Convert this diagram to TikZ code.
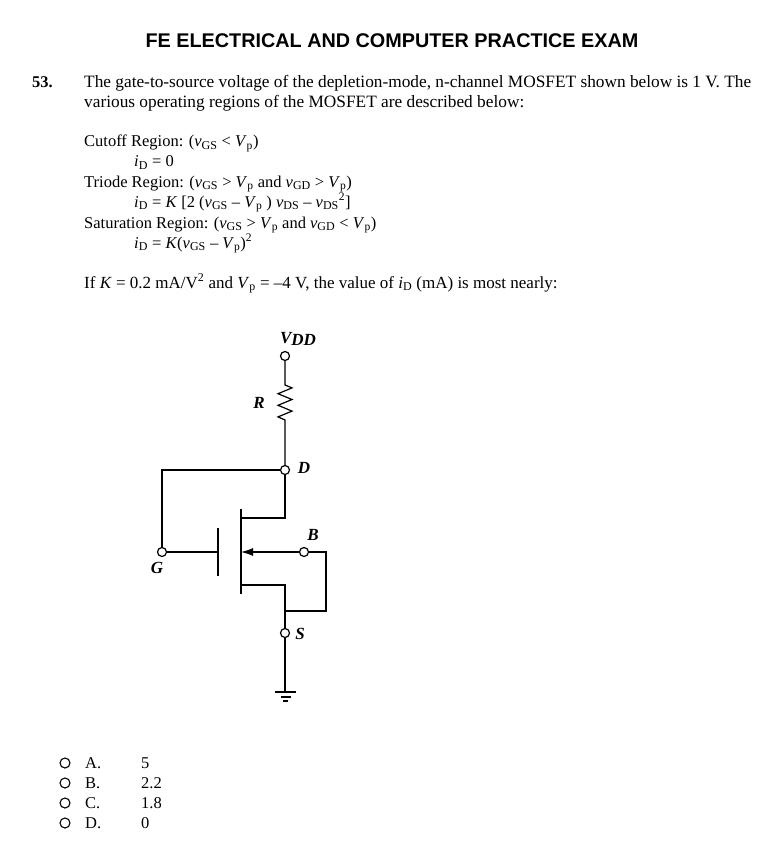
\documentclass[tikz,border=0pt]{standalone}
\usepackage{fontspec}
\setmainfont{Liberation Serif}
\newfontfamily\headfont{Liberation Sans}
\usetikzlibrary{arrows.meta}
\tikzset{
    wire/.style = {-,line width=1.2pt,black},
    term/.style = {circle,draw=black,line width=1.2pt,fill=white,minimum size=9pt,inner sep=0},
    mosbar/.style = {-,line width=1.5pt,black},
    lbl/.style = {font=\fontsize{17}{17}\selectfont\bfseries\itshape},
    txt/.style = {anchor=base west,inner sep=0,font=\fontsize{16.5}{20}\selectfont},
    para/.style = {txt,font=\fontsize{17.3}{20}\selectfont},
    ans/.style = {circle,draw=black,line width=1.1pt,minimum size=10pt,inner sep=0}
}
\newcommand{\ssub}[2]{\textit{#1}\textsubscript{\fontsize{12}{12}\selectfont #2}}
\begin{document}
\begin{tikzpicture}[x=1pt,y=-1pt]
\useasboundingbox (0,0) rectangle (778,853);

\node[anchor=base,inner sep=0,font=\fontsize{19.8}{20}\headfont\bfseries] at (392,48) (title) {FE ELECTRICAL AND COMPUTER PRACTICE EXAM};
\node[txt,font=\fontsize{16.4}{20}\selectfont\bfseries] at (32,88) (num) {53.};
\node[para] at (84,88) (q1) {The gate-to-source voltage of the depletion-mode, n-channel MOSFET shown below is 1 V. The};
\node[para] at (84,108) (q2) {various operating regions of the MOSFET are described below:};

\node[txt] at (84,147) (c1) {Cutoff Region: (\ssub{v}{GS} < \textit{V}\textsubscript{p})};
\node[txt] at (134,167) (c2) {\ssub{i}{D} = 0};
\node[txt] at (84,187) (t1) {Triode Region: (\ssub{v}{GS} > \textit{V}\textsubscript{p} and \ssub{v}{GD} > \textit{V}\textsubscript{p})};
\node[txt] at (134,207) (t2) {\ssub{i}{D} = \textit{K} [2 (\ssub{v}{GS} -- \textit{V}\textsubscript{p} ) \ssub{v}{DS} -- \ssub{v}{DS}\textsuperscript{2}]};
\node[txt] at (84,228) (s1) {Saturation Region: (\ssub{v}{GS} > \textit{V}\textsubscript{p} and \ssub{v}{GD} < \textit{V}\textsubscript{p})};
\node[txt] at (134,248) (s2) {\ssub{i}{D} = \textit{K}(\ssub{v}{GS} -- \textit{V}\textsubscript{p})\textsuperscript{2}};
\node[txt,font=\fontsize{17}{20}\selectfont] at (84,288) (f1) {If \textit{K} = 0.2 mA/V\textsuperscript{2} and \textit{V}\textsubscript{p} = --4 V, the value of \ssub{i}{D} (mA) is most nearly:};

\node[term] at (285,356) (vdd) {};
\node[term] at (285,470) (d) {};
\node[term] at (162,552) (g) {};
\node[term] at (304,552) (b) {};
\node[term] at (285,633) (s) {};
\coordinate (rt) at (285,385);
\coordinate (rb) at (285,420);
\coordinate (dl) at (162,470);
\coordinate (gp) at (218,552);
\coordinate (gt) at (218,528);
\coordinate (gb) at (218,576);
\coordinate (cht) at (241,509);
\coordinate (chb) at (241,594);
\coordinate (chm) at (241,552);
\coordinate (dc) at (241,518);
\coordinate (dr) at (285,518);
\coordinate (sc) at (241,585);
\coordinate (sr) at (285,585);
\coordinate (bj) at (285,611);
\coordinate (bb) at (326,611);
\coordinate (bt) at (326,552);
\coordinate (gnd) at (285,692);

\node[lbl] at (298,339) (lvdd) {\raisebox{2pt}{V}DD};
\node[lbl] at (259,403) (lr) {R};
\node[lbl] at (304,468) (ld) {D};
\node[lbl] at (313,535) (lb) {B};
\node[lbl] at (157,568) (lg) {G};
\node[lbl] at (300,634) (ls) {S};

\draw[wire] (vdd) -- (rt) -- ++(7,2.9) -- ++(-14,5.8) -- ++(14,5.8) -- ++(-14,5.8) -- ++(14,5.8) -- ++(-14,5.8) -- (rb) -- (d);
\draw[wire] (d) -- (dl) -- (g);
\draw[wire] (g) -- (gp);
\draw[mosbar] (gt) -- (gb);
\draw[mosbar] (cht) -- (chb);
\draw[wire] (dc) -- (dr) -- (d);
\draw[wire] (sc) -- (sr) -- (bj) -- (s);
\draw[wire,-{Latex[length=12pt,width=8pt]}] (b) -- (chm);
\draw[wire] (b) -- (bt) -- (bb) -- (bj);
\draw[wire] (s) -- (gnd);
\draw[wire] (275,692) -- (296,692);
\draw[wire] (281,697) -- (291,697);
\draw[wire] (283,701) -- (288,701);

\node[ans] at (65,763) (oa) {};
\node[ans] at (65,783) (ob) {};
\node[ans] at (65,803) (oc) {};
\node[ans] at (65,823) (od) {};
\node[txt] at (85,768) (la) {A.};
\node[txt] at (85,788) (lb2) {B.};
\node[txt] at (85,808) (lc) {C.};
\node[txt] at (85,828) (ld2) {D.};
\node[txt] at (141,768) (va) {5};
\node[txt] at (141,788) (vb) {2.2};
\node[txt] at (141,808) (vc) {1.8};
\node[txt] at (141,828) (vd) {0};

\end{tikzpicture}
\end{document}
